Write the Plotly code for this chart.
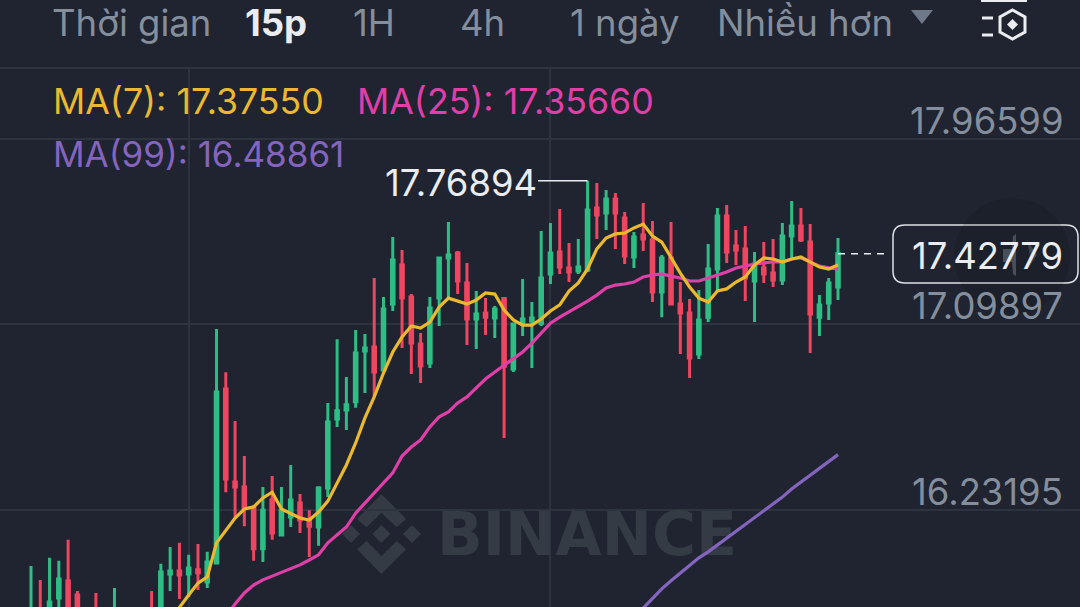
import plotly.graph_objects as go

W, H = 1080, 607

opens = [15.622,15.669,15.669,15.818,15.898,15.832,15.645,15.739,15.659,15.669,15.725,15.659,15.678,15.753,15.762,15.931,15.945,15.931,15.950,15.893,15.982,16.795,16.360,16.337,16.239,16.048,16.276,16.113,16.197,16.262,16.183,16.150,16.332,16.655,16.697,16.735,16.973,16.991,16.884,17.192,17.375,17.225,17.005,16.917,17.220,17.408,17.431,17.291,17.122,17.150,17.127,17.218,16.889,17.108,17.113,17.103,17.333,17.436,17.361,17.347,17.351,17.641,17.618,17.683,17.594,17.412,17.515,17.492,17.249,17.408,17.192,17.150,16.959,17.131,17.356,17.604,17.464,17.450,17.300,17.361,17.337,17.305,17.510,17.557,17.482,17.131,17.197,17.272]
highs = [15.968,15.903,16.006,15.992,16.090,15.851,15.739,15.842,15.753,15.865,15.753,15.739,15.753,15.851,15.978,16.057,16.076,16.020,16.071,16.034,17.076,16.874,16.646,16.482,16.253,16.337,16.388,16.337,16.440,16.304,16.229,16.341,16.730,17.028,16.851,17.071,17.052,17.314,17.225,17.506,17.445,17.239,17.057,17.225,17.412,17.576,17.440,17.384,17.253,17.220,17.183,17.220,17.103,17.309,17.202,17.534,17.571,17.637,17.478,17.496,17.76894,17.758,17.725,17.711,17.622,17.529,17.665,17.580,17.422,17.576,17.295,17.216,17.258,17.473,17.641,17.655,17.538,17.557,17.436,17.482,17.496,17.571,17.674,17.641,17.566,17.234,17.314,17.501]
lows = [15.575,15.598,15.575,15.716,15.622,15.622,15.598,15.622,15.613,15.622,15.622,15.613,15.622,15.622,15.716,15.851,15.814,15.823,15.856,15.865,15.980,16.313,16.197,16.154,15.992,15.987,16.090,16.108,16.150,16.122,16.010,16.062,16.290,16.618,16.604,16.707,16.777,16.758,16.879,17.160,16.987,16.865,16.823,16.893,17.090,17.220,17.239,17.001,16.982,17.047,17.034,16.566,16.875,17.043,16.893,17.090,17.286,17.333,17.295,17.333,17.342,17.496,17.538,17.450,17.379,17.361,17.440,17.202,17.131,17.188,16.959,16.847,16.935,17.108,17.249,17.384,17.375,17.206,17.108,17.291,17.272,17.281,17.408,17.482,16.963,17.043,17.118,17.211]
closes = [15.753,15.669,15.800,15.907,15.692,15.692,15.716,15.669,15.725,15.753,15.669,15.716,15.734,15.669,15.940,15.945,15.926,15.959,15.936,15.987,16.781,16.374,16.337,16.239,16.048,16.229,16.122,16.229,16.276,16.183,16.154,16.332,16.641,16.693,16.721,16.963,16.987,16.875,17.169,17.398,17.220,17.010,16.903,17.174,17.408,17.422,17.300,17.122,17.146,17.131,17.169,16.902,17.099,17.122,17.127,17.314,17.431,17.365,17.342,17.365,17.632,17.608,17.683,17.618,17.417,17.506,17.496,17.249,17.408,17.192,17.150,16.940,17.118,17.356,17.604,17.436,17.445,17.314,17.379,17.333,17.305,17.510,17.557,17.492,17.146,17.188,17.291,17.42779]

ma7 = [15.716,15.776,15.832,15.888,15.917,16.076,16.136,16.192,16.234,16.244,16.286,16.313,16.234,16.215,16.192,16.183,16.220,16.271,16.356,16.440,16.543,16.660,16.758,16.870,16.968,17.038,17.090,17.080,17.108,17.178,17.220,17.206,17.192,17.211,17.244,17.239,17.164,17.118,17.094,17.094,17.122,17.160,17.188,17.253,17.291,17.356,17.450,17.501,17.520,17.524,17.548,17.566,17.510,17.482,17.408,17.337,17.272,17.220,17.202,17.253,17.263,17.295,17.319,17.375,17.408,17.403,17.389,17.403,17.412,17.389,17.365,17.356,17.3755]
ma25 = [15.730,15.790,15.842,15.879,15.903,15.921,15.940,15.954,15.973,15.996,16.020,16.076,16.113,16.150,16.215,16.262,16.309,16.356,16.403,16.482,16.524,16.557,16.618,16.665,16.688,16.730,16.758,16.800,16.842,16.875,16.907,16.940,16.968,17.010,17.057,17.103,17.131,17.155,17.178,17.206,17.234,17.267,17.281,17.286,17.295,17.319,17.328,17.333,17.323,17.314,17.300,17.300,17.314,17.328,17.342,17.361,17.370,17.379,17.384,17.389,17.389,17.403,17.408,17.389,17.370,17.361,17.3566]
ma99 = [15.771,15.818,15.861,15.899,15.935,15.968,16.006,16.034,16.066,16.099,16.131,16.164,16.197,16.229,16.262,16.290,16.328,16.360,16.393,16.426,16.459,16.48861]

grid_prices = [17.96599, 17.09897, 16.23195]
grid_labels = ["17.96599", "17.09897", "16.23195"]
grid_candles = [17, 56]
tabs = ["Thời gian", "15p", "1H", "4h", "1 ngày", "Nhiều hơn"]
ma_labels = ["MA(7): 17.37550", "MA(25): 17.35660", "MA(99): 16.48861"]
high_label = "17.76894"
last_label = "17.42779"

BG = "#1f2430"
GRID = "#2e343f"
GREEN = "#2ebd85"
RED = "#ee4560"
GRAY = "#848e9c"
WHITE = "#eaecef"
YEL = "#ebb92f"
PINK = "#e03fa8"
PUR = "#8464be"
FONT = "Inter"
MARK = "#353b45"

PER_PX = (grid_prices[0] - grid_prices[2]) / 371.0
STEP = 9.276
X0 = 31.0
price_at = lambda py: grid_prices[1] + (324 - py) * PER_PX
idx_at = lambda px: (px - X0) / STEP
n = len(closes)
xs = list(range(n))


def fx(px):
    return px / W


def fy(py):
    return 1 - py / H


def poly(points, closed=True):
    s = "M" + " L".join(f"{fx(a):.5f},{fy(b):.5f}" for a, b in points)
    return s + (" Z" if closed else "")


def diamond(cx, cy, r):
    return poly([(cx, cy - r), (cx + r, cy), (cx, cy + r), (cx - r, cy)])


fig = go.Figure()

fig.add_trace(go.Scatter(x=[idx_at(587)], y=[price_at(540)], mode="text", text=["<b>BINANCE</b>"],
                         textfont=dict(family="DejaVu Sans", size=60, color=MARK), textposition="middle center",
                         showlegend=False, hoverinfo="skip"))
fig.add_trace(go.Candlestick(x=xs, open=opens, high=highs, low=lows, close=closes,
                             increasing=dict(line=dict(color=GREEN, width=3), fillcolor=GREEN),
                             decreasing=dict(line=dict(color=RED, width=3), fillcolor=RED),
                             whiskerwidth=0, showlegend=False))
fig.add_trace(go.Scatter(x=xs[n - len(ma99):], y=ma99, mode="lines", line=dict(color=PUR, width=3.2), showlegend=False))
fig.add_trace(go.Scatter(x=xs[n - len(ma25):], y=ma25, mode="lines", line=dict(color=PINK, width=3.2), showlegend=False))
fig.add_trace(go.Scatter(x=xs[n - len(ma7):], y=ma7, mode="lines", line=dict(color=YEL, width=3.2), showlegend=False))

shapes = []
# watermark logo
for pts in ([(381.4, 494.2), (406.1, 518.9), (396.6, 527.3), (381.4, 512.8), (366.5, 527.3), (357, 518.9)],
            [(381.4, 574), (406.1, 549.3), (396.6, 540.9), (381.4, 556.1), (366.5, 540.9), (357, 549.3)]):
    shapes.append(dict(type="path", path=poly(pts), xref="paper", yref="paper", fillcolor=MARK, line_width=0, layer="below"))
for cx in (351, 381.4, 412):
    shapes.append(dict(type="path", path=diamond(cx, 534, 9), xref="paper", yref="paper", fillcolor=MARK, line_width=0, layer="below"))

# header rule
shapes.append(dict(type="line", xref="paper", yref="paper", x0=0, x1=1, y0=fy(68), y1=fy(68), line=dict(color=GRID, width=2)))
# high marker
shapes.append(dict(type="line", xref="x", yref="y", x0=idx_at(538), x1=60, y0=highs[60], y1=highs[60], line=dict(color=WHITE, width=1.5)))
# last-price dashes
shapes.append(dict(type="line", xref="x", yref="y", x0=n - 1, x1=idx_at(888), y0=closes[-1], y1=closes[-1], line=dict(color=WHITE, width=1.5, dash="7px,6px")))
# last-price box
r = 12
x1, x2, y1, y2 = 893, 1078, 225, 283
box = (f"M{fx(x1 + r)},{fy(y1)} L{fx(x2 - r)},{fy(y1)} Q{fx(x2)},{fy(y1)} {fx(x2)},{fy(y1 + r)} "
       f"L{fx(x2)},{fy(y2 - r)} Q{fx(x2)},{fy(y2)} {fx(x2 - r)},{fy(y2)} L{fx(x1 + r)},{fy(y2)} "
       f"Q{fx(x1)},{fy(y2)} {fx(x1)},{fy(y2 - r)} L{fx(x1)},{fy(y1 + r)} Q{fx(x1)},{fy(y1)} {fx(x1 + r)},{fy(y1)} Z")
shapes.append(dict(type="path", path=box, xref="paper", yref="paper", fillcolor=BG, line=dict(color="#dfe2e6", width=1.5)))
# floating speaker button
shapes.append(dict(type="circle", xref="paper", yref="paper", x0=fx(954), x1=fx(1070), y0=fy(198), y1=fy(314),
                   fillcolor="rgba(0,0,0,0.10)", line_width=0))
shapes.append(dict(type="path", path=poly([(1003, 249), (1012, 249), (1013, 236), (1016, 234), (1016, 276), (1013, 274), (1012, 262), (1003, 262)]),
                   xref="paper", yref="paper", fillcolor="rgba(130,135,145,0.45)", line_width=0))
shapes.append(dict(type="path", path=poly([(1027, 240), (1037, 255), (1027, 270), (1030, 255)]),
                   xref="paper", yref="paper", fillcolor="rgba(130,135,145,0.35)", line_width=0))
# dropdown triangle
shapes.append(dict(type="path", path=poly([(911, 10), (933, 10), (922, 24)]), xref="paper", yref="paper", fillcolor="#6f7888", line_width=0))
# settings icon
ic = dict(color=WHITE, width=3)
shapes.append(dict(type="line", xref="paper", yref="paper", x0=fx(981), x1=fx(1027), y0=fy(0.5), y1=fy(0.5), line=ic))
shapes.append(dict(type="line", xref="paper", yref="paper", x0=fx(982), x1=fx(993), y0=fy(18), y1=fy(18), line=ic))
shapes.append(dict(type="line", xref="paper", yref="paper", x0=fx(982), x1=fx(993), y0=fy(35), y1=fy(35), line=ic))
shapes.append(dict(type="path", path=poly([(1012.5, 10), (1025, 17), (1025, 32), (1012.5, 39), (1000, 32), (1000, 17)]),
                   xref="paper", yref="paper", line=ic, fillcolor="rgba(0,0,0,0)"))
shapes.append(dict(type="path", path=diamond(1012.5, 24.5, 5.5), xref="paper", yref="paper", fillcolor=WHITE, line_width=0))


def label(text, px, py, color, anchor="left", size=36.4, bold=False):
    return dict(text=f"<b>{text}</b>" if bold else text, xref="paper", yref="paper", x=fx(px), y=fy(py),
                xanchor=anchor, yanchor="middle", showarrow=False,
                font=dict(family=FONT, size=size, color=color), borderpad=0, borderwidth=0)


ann = []
tab_x = [52, 245, 353, 460, 570, 717]
for i, (t, px) in enumerate(zip(tabs, tab_x)):
    ann.append(label(t, px, 23, WHITE if i == 1 else GRAY, size=36.5, bold=i == 1))
ann.append(label(ma_labels[0], 53, 101, YEL, size=35.7))
ann.append(label(ma_labels[1], 357, 101, PINK, size=35.7))
ann.append(label(ma_labels[2], 53, 154, PUR, size=35))
for t, p in zip(grid_labels, grid_prices):
    a = label(t, 1063, 0, GRAY, anchor="right")
    a.update(yref="y", y=p, yshift=18)
    ann.append(a)
hi = label(high_label, 537, 0, WHITE, anchor="right")
hi.update(yref="y", y=highs[60], yshift=-2)
ann.append(hi)
ann.append(label(last_label, 1063, 256, WHITE, anchor="right"))

fig.update_layout(
    width=W, height=H, margin=dict(l=0, r=0, t=0, b=0), autosize=False,
    paper_bgcolor=BG, plot_bgcolor="rgba(0,0,0,0)", showlegend=False, boxgap=0.6,
    xaxis=dict(range=[idx_at(0), idx_at(W)], tickvals=grid_candles, showticklabels=False, ticks="",
               showgrid=True, gridcolor=GRID, gridwidth=2, zeroline=False, rangeslider=dict(visible=False), fixedrange=True),
    yaxis=dict(domain=[0, (H - 68) / H], range=[price_at(H), price_at(68)], tickvals=grid_prices, showticklabels=False, ticks="",
               showgrid=True, gridcolor=GRID, gridwidth=2, zeroline=False, fixedrange=True),
    shapes=shapes, annotations=ann,
)

fig.write_html("out.html", config=dict(displayModeBar=False),
               post_script="document.body.style.margin='0';document.body.style.overflow='hidden';")
